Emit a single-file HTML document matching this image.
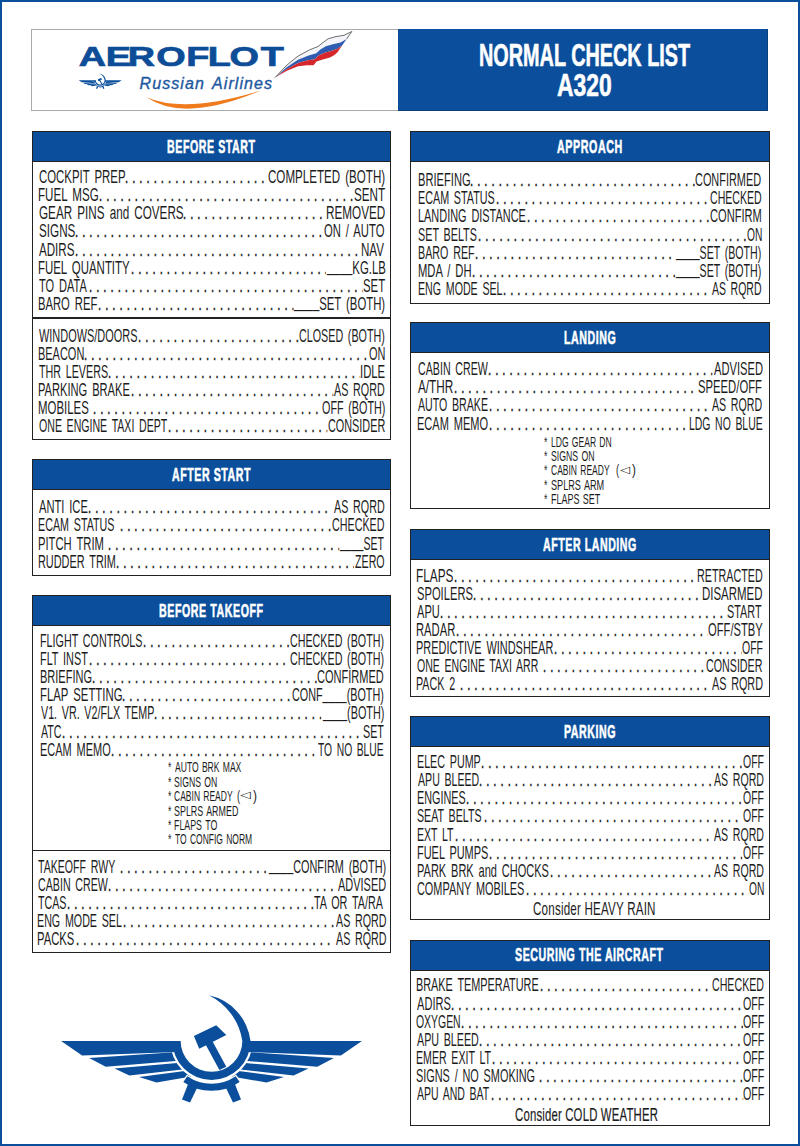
<!DOCTYPE html>
<html><head><meta charset="utf-8"><title>Normal Check List A320</title>
<style>
*{margin:0;padding:0;box-sizing:border-box}
html,body{width:800px;height:1146px;overflow:hidden;background:#fff}
body{position:relative;font-family:"Liberation Sans",Arial,sans-serif;color:#1c1c1c}
.frame{position:absolute;left:0;top:0;width:800px;height:1146px;border:2px solid #0b4f9c}
.abs{position:absolute;left:0;top:0}
.hbox{position:absolute;left:30.5px;top:28.8px;width:369px;height:82.5px;border:1.5px solid #aaa;background:#fff}
.hblue{position:absolute;left:398px;top:29px;width:370px;height:81.5px;background:#0b4f9c;border-right:1px solid #0a3f7c;border-bottom:1px solid #0a3f7c}
.box{position:absolute;border:1.5px solid #222;background:#fff}
.hd{position:absolute;background:#0b4f9c;border:1.5px solid #222}
.dv{position:absolute;height:1.5px;background:#222}
.ln,.dt{position:absolute;transform-origin:0 0;white-space:nowrap;line-height:20px}
.dt{font-size:18.5px;overflow:hidden;transform:scaleX(0.615);-webkit-text-stroke:0.45px #1c1c1c}
.sub{position:absolute;transform-origin:0 0;white-space:nowrap;letter-spacing:0.3px}
.tri{font-family:'DejaVu Sans',sans-serif}
.ht{color:#fff;-webkit-text-stroke:0.6px #fff}
.md{-webkit-text-stroke:0.2px #1c1c1c}
.us{position:relative;top:-2.5px}
</style></head>
<body>
<div class="frame"></div>
<div class="hbox"></div><div class="hblue"></div><div class="ln ht" style="left:478.67px;top:45.65px;font-size:31.2px;letter-spacing:0.0px;word-spacing:0px;font-weight:700;transform:scaleX(0.6357)">NORMAL CHECK LIST</div><div class="ln ht" style="left:557.13px;top:75.95px;font-size:31.2px;letter-spacing:0.0px;word-spacing:0px;font-weight:700;transform:scaleX(0.7335)">A320</div><svg class="abs" width="800" height="130" viewBox="0 0 800 130"><path d="M146.6,97.2 Q185,114 260.8,90.6 Q184,123 146.6,97.2Z" fill="#f07b1d"/><path d="M275.00,77.50 L287.00,65.00 L298.00,56.10 L309.50,49.90 L318.00,46.50 L322.00,43.30 L328.00,38.80 L336.00,36.60 L344.00,35.30 L351.80,31.50 L346.65,38.95 L340.58,42.39 L333.84,44.12 L325.84,46.36 L320.02,49.85 L316.38,53.27 L308.60,55.41 L298.00,59.74 L287.00,67.05 L275.00,77.50Z" fill="#f3f5fa"/><path d="M275.00,77.50 L287.00,67.05 L298.00,59.74 L308.60,55.41 L316.38,53.27 L320.02,49.85 L325.84,46.36 L333.84,44.12 L340.58,42.39 L346.65,38.95 L342.08,45.58 L337.54,48.70 L331.92,50.81 L323.92,53.08 L318.26,55.68 L314.94,59.28 L307.80,60.30 L298.00,62.97 L287.00,68.88 L275.00,77.50Z" fill="#2d5cb0"/><path d="M275.00,77.50 L287.00,68.88 L298.00,62.97 L307.80,60.30 L314.94,59.28 L318.26,55.68 L323.92,53.08 L331.92,50.81 L337.54,48.70 L342.08,45.58 L337.50,52.20 L334.50,55.00 L330.00,57.50 L322.00,59.80 L316.50,61.50 L313.50,65.30 L307.00,65.20 L298.00,66.20 L287.00,70.70 L275.00,77.50Z" fill="#d6282c"/><path d="M275.00,77.50 L287.00,65.00 L298.00,56.10 L309.50,49.90 L318.00,46.50 L322.00,43.30 L328.00,38.80 L336.00,36.60 L344.00,35.30 L351.80,31.50 L346.65,38.95" fill="none" stroke="#4a4a4a" stroke-width="0.8"/><text transform="scale(1.4,1)" x="56.34 75.62 91.34 111.66 132.99 148.34 164.01 186.28" y="66.1" font-family="Liberation Sans, Arial, sans-serif" font-weight="700" font-size="27.0" fill="#0d4d97" stroke="#0d4d97" stroke-width="0.7">AEROFLOT</text><text x="139.5" y="89.1" font-family="Liberation Sans, Arial, sans-serif" font-style="italic" font-size="16" letter-spacing="1.1" word-spacing="2" fill="#1d57a0" stroke="#1d57a0" stroke-width="0.35">Russian Airlines</text><g transform="translate(78.7,80.2) scale(0.143) translate(-61.1,-1041)"><path d="M89.10,1058.00 L200.00,1050.50 L200.00,1059.00 L105.75,1066.75ZM333.90,1058.00 L223.00,1050.50 L223.00,1059.00 L317.25,1066.75ZM114.50,1068.50 L200.00,1061.00 L200.00,1067.50 L129.40,1075.50ZM308.50,1068.50 L223.00,1061.00 L223.00,1067.50 L293.60,1075.50ZM139.00,1077.00 L200.00,1069.00 L200.00,1075.00 L156.50,1082.50ZM284.00,1077.00 L223.00,1069.00 L223.00,1075.00 L266.50,1082.50Z" fill="#0b4f9c"/><circle cx="211.5" cy="1041.0" r="41.2" fill="#fff"/><path d="M183.32,1082.00 A49.75,49.75 0 0 0 239.68,1082.00 L235.69,1076.19 A42.7,42.7 0 0 1 187.31,1076.19Z" fill="#0b4f9c" stroke="#fff" stroke-width="2.4" paint-order="stroke"/><path d="M188.50,1083.00 L197.50,1087.00 L190.00,1102.50 L182.00,1099.60Z" fill="#0b4f9c"/><path d="M234.50,1083.00 L225.50,1087.00 L233.00,1102.50 L241.00,1099.60Z" fill="#0b4f9c"/><path d="M172.50,1041.0 A39.0,39.0 0 0 0 250.50,1041.0 A53,53 0 0 0 208.75,995.25 A61,61 0 0 1 242.35,1041.0 A30.85,30.85 0 0 1 180.65,1041.0 Z" fill="#0b4f9c" stroke="#fff" stroke-width="3" paint-order="stroke"/><path d="M61.10,1041.00 L178.00,1041.00 L178.00,1052.00 L82.10,1055.40ZM361.90,1041.00 L245.00,1041.00 L245.00,1052.00 L340.90,1055.40Z" fill="#0b4f9c"/><path d="M193.90,1035.90 L216.20,1025.30 L226.30,1034.90 L199.20,1048.70ZM204.50,1042.50 L211.50,1039.50 L226.30,1066.80 L219.40,1070.00Z" fill="#0b4f9c"/></g></svg>
<div class="box" style="left:32px;top:130.75px;width:359px;height:309.25px"></div><div class="hd" style="left:32px;top:130.75px;width:359px;height:31px"></div><div class="ln ht" style="left:166.73px;top:137.26px;font-size:19.2px;letter-spacing:1.0px;word-spacing:0px;font-weight:700;transform:scaleX(0.5547)">BEFORE START</div><div class="dv" style="left:32px;top:317px;width:359px"></div>
<div class="ln" style="left:38.52px;top:167.12px;font-size:18.5px;letter-spacing:0.0px;word-spacing:3.0px;font-weight:400;transform:scaleX(0.6159)">COCKPIT PREP</div><div class="dt" style="left:125.36px;top:167.12px;width:232.26px;letter-spacing:6.519px">.....................</div><div class="ln" style="left:268.41px;top:167.12px;font-size:18.5px;letter-spacing:0.0px;word-spacing:3.0px;font-weight:400;transform:scaleX(0.6263)">COMPLETED (BOTH)</div><div class="ln" style="left:38.15px;top:185.22px;font-size:18.5px;letter-spacing:0.0px;word-spacing:3.0px;font-weight:400;transform:scaleX(0.6264)">FUEL MSG</div><div class="dt" style="left:99.16px;top:185.22px;width:413.72px;letter-spacing:6.519px">.....................................</div><div class="ln" style="left:353.87px;top:185.22px;font-size:18.5px;letter-spacing:0.0px;word-spacing:3.0px;font-weight:400;transform:scaleX(0.6323)">SENT</div><div class="ln" style="left:38.51px;top:203.32px;font-size:18.5px;letter-spacing:0.0px;word-spacing:3.0px;font-weight:400;transform:scaleX(0.6315)">GEAR PINS and COVERS</div><div class="dt" style="left:183.36px;top:203.32px;width:232.26px;letter-spacing:6.519px">.....................</div><div class="ln" style="left:326.04px;top:203.32px;font-size:18.5px;letter-spacing:0.0px;word-spacing:3.0px;font-weight:400;transform:scaleX(0.6342)">REMOVED</div><div class="ln" style="left:38.57px;top:221.42px;font-size:18.5px;letter-spacing:0.0px;word-spacing:3.0px;font-weight:400;transform:scaleX(0.6317)">SIGNS</div><div class="dt" style="left:75.16px;top:221.42px;width:404.29px;letter-spacing:6.519px">....................................</div><div class="ln" style="left:324.07px;top:221.42px;font-size:18.5px;letter-spacing:0.0px;word-spacing:3.0px;font-weight:400;transform:scaleX(0.6093)">ON / AUTO</div><div class="ln" style="left:39.08px;top:239.52px;font-size:18.5px;letter-spacing:0.0px;word-spacing:3.0px;font-weight:400;transform:scaleX(0.6271)">ADIRS</div><div class="dt" style="left:74.76px;top:239.52px;width:465.75px;letter-spacing:6.519px">.........................................</div><div class="ln" style="left:361.05px;top:239.52px;font-size:18.5px;letter-spacing:0.0px;word-spacing:3.0px;font-weight:400;transform:scaleX(0.6257)">NAV</div><div class="ln" style="left:38.16px;top:257.62px;font-size:18.5px;letter-spacing:0.0px;word-spacing:3.0px;font-weight:400;transform:scaleX(0.6182)">FUEL QUANTITY</div><div class="dt" style="left:130.76px;top:257.62px;width:316.81px;letter-spacing:6.519px">.............................</div><div class="ln" style="left:326.57px;top:257.62px;font-size:18.5px;letter-spacing:0.0px;word-spacing:3.0px;font-weight:400;transform:scaleX(0.6150)"><span class=us>____</span>KG.LB</div><div class="ln" style="left:38.85px;top:275.72px;font-size:18.5px;letter-spacing:0.0px;word-spacing:3.0px;font-weight:400;transform:scaleX(0.5960)">TO DATA</div><div class="dt" style="left:89.16px;top:275.72px;width:444.62px;letter-spacing:6.519px">.......................................</div><div class="ln" style="left:362.88px;top:275.72px;font-size:18.5px;letter-spacing:0.0px;word-spacing:3.0px;font-weight:400;transform:scaleX(0.6165)">SET</div><div class="ln" style="left:38.18px;top:293.82px;font-size:18.5px;letter-spacing:0.0px;word-spacing:3.0px;font-weight:400;transform:scaleX(0.6075)">BARO REF</div><div class="dt" style="left:97.76px;top:293.82px;width:317.79px;letter-spacing:6.519px">.............................</div><div class="ln" style="left:294.17px;top:293.82px;font-size:18.5px;letter-spacing:0.0px;word-spacing:3.0px;font-weight:400;transform:scaleX(0.6130)"><span class=us>____</span>SET (BOTH)</div>
<div class="ln" style="left:39.05px;top:325.52px;font-size:18.5px;letter-spacing:0.0px;word-spacing:3.0px;font-weight:400;transform:scaleX(0.5913)">WINDOWS/DOORS</div><div class="dt" style="left:137.76px;top:325.52px;width:262.50px;letter-spacing:6.519px">........................</div><div class="ln" style="left:299.46px;top:325.52px;font-size:18.5px;letter-spacing:0.0px;word-spacing:3.0px;font-weight:400;transform:scaleX(0.5801)">CLOSED (BOTH)</div><div class="ln" style="left:38.20px;top:343.62px;font-size:18.5px;letter-spacing:0.0px;word-spacing:3.0px;font-weight:400;transform:scaleX(0.5925)">BEACON</div><div class="dt" style="left:84.36px;top:343.62px;width:462.50px;letter-spacing:6.519px">.........................................</div><div class="ln" style="left:369.08px;top:343.62px;font-size:18.5px;letter-spacing:0.0px;word-spacing:3.0px;font-weight:400;transform:scaleX(0.5914)">ON</div><div class="ln" style="left:38.86px;top:361.72px;font-size:18.5px;letter-spacing:0.0px;word-spacing:3.0px;font-weight:400;transform:scaleX(0.5793)">THR LEVERS</div><div class="dt" style="left:108.16px;top:361.72px;width:409.82px;letter-spacing:6.519px">.....................................</div><div class="ln" style="left:359.96px;top:361.72px;font-size:18.5px;letter-spacing:0.0px;word-spacing:3.0px;font-weight:400;transform:scaleX(0.6110)">IDLE</div><div class="ln" style="left:38.19px;top:379.82px;font-size:18.5px;letter-spacing:0.0px;word-spacing:3.0px;font-weight:400;transform:scaleX(0.6014)">PARKING BRAKE</div><div class="dt" style="left:131.16px;top:379.82px;width:329.17px;letter-spacing:6.519px">..............................</div><div class="ln" style="left:334.38px;top:379.82px;font-size:18.5px;letter-spacing:0.0px;word-spacing:3.0px;font-weight:400;transform:scaleX(0.5812)">AS RQRD</div><div class="ln" style="left:38.16px;top:397.92px;font-size:18.5px;letter-spacing:0.0px;word-spacing:3.0px;font-weight:400;transform:scaleX(0.6172)">MOBILES</div><div class="dt" style="left:92.86px;top:397.92px;width:371.93px;letter-spacing:6.519px">.................................</div><div class="ln" style="left:321.89px;top:397.92px;font-size:18.5px;letter-spacing:0.0px;word-spacing:3.0px;font-weight:400;transform:scaleX(0.5823)">OFF (BOTH)</div><div class="ln" style="left:38.60px;top:416.02px;font-size:18.5px;letter-spacing:0.0px;word-spacing:3.0px;font-weight:400;transform:scaleX(0.5721)">ONE ENGINE TAXI DEPT</div><div class="dt" style="left:168.36px;top:416.02px;width:258.92px;letter-spacing:6.519px">........................</div><div class="ln" style="left:327.85px;top:416.02px;font-size:18.5px;letter-spacing:0.0px;word-spacing:3.0px;font-weight:400;transform:scaleX(0.5863)">CONSIDER</div>
<div class="box" style="left:32px;top:458.5px;width:359px;height:117.5px"></div><div class="hd" style="left:32px;top:458.5px;width:359px;height:31px"></div><div class="ln ht" style="left:171.74px;top:464.56px;font-size:19.2px;letter-spacing:1.0px;word-spacing:0px;font-weight:700;transform:scaleX(0.5537)">AFTER START</div>
<div class="ln" style="left:39.28px;top:497.32px;font-size:18.5px;letter-spacing:0.0px;word-spacing:3.0px;font-weight:400;transform:scaleX(0.6016)">ANTI ICE</div><div class="dt" style="left:88.36px;top:497.32px;width:397.46px;letter-spacing:6.519px">...................................</div><div class="ln" style="left:333.58px;top:497.32px;font-size:18.5px;letter-spacing:0.0px;word-spacing:3.0px;font-weight:400;transform:scaleX(0.5812)">AS RQRD</div><div class="ln" style="left:38.42px;top:515.42px;font-size:18.5px;letter-spacing:0.0px;word-spacing:3.0px;font-weight:400;transform:scaleX(0.5802)">ECAM STATUS</div><div class="dt" style="left:120.46px;top:515.42px;width:343.32px;letter-spacing:6.519px">...............................</div><div class="ln" style="left:331.86px;top:515.42px;font-size:18.5px;letter-spacing:0.0px;word-spacing:3.0px;font-weight:400;transform:scaleX(0.5799)">CHECKED</div><div class="ln" style="left:38.38px;top:533.52px;font-size:18.5px;letter-spacing:0.0px;word-spacing:3.0px;font-weight:400;transform:scaleX(0.6077)">PITCH TRIM</div><div class="dt" style="left:108.06px;top:533.52px;width:375.84px;letter-spacing:6.519px">..................................</div><div class="ln" style="left:340.16px;top:533.52px;font-size:18.5px;letter-spacing:0.0px;word-spacing:3.0px;font-weight:400;transform:scaleX(0.5689)"><span class=us>____</span>SET</div><div class="ln" style="left:38.41px;top:551.62px;font-size:18.5px;letter-spacing:0.0px;word-spacing:3.0px;font-weight:400;transform:scaleX(0.5894)">RUDDER TRIM</div><div class="dt" style="left:116.36px;top:551.62px;width:386.73px;letter-spacing:6.519px">...................................</div><div class="ln" style="left:354.66px;top:551.62px;font-size:18.5px;letter-spacing:0.0px;word-spacing:3.0px;font-weight:400;transform:scaleX(0.5770)">ZERO</div>
<div class="box" style="left:32px;top:594.5px;width:359px;height:358.0px"></div><div class="hd" style="left:32px;top:594.5px;width:359px;height:31px"></div><div class="ln ht" style="left:158.88px;top:600.56px;font-size:19.2px;letter-spacing:1.0px;word-spacing:0px;font-weight:700;transform:scaleX(0.5551)">BEFORE TAKEOFF</div><div class="dv" style="left:32px;top:849.5px;width:359px"></div>
<div class="ln" style="left:39.82px;top:631.02px;font-size:18.5px;letter-spacing:0.0px;word-spacing:3.0px;font-weight:400;transform:scaleX(0.5810)">FLIGHT CONTROLS</div><div class="dt" style="left:142.76px;top:631.02px;width:238.76px;letter-spacing:6.519px">......................</div><div class="ln" style="left:289.86px;top:631.02px;font-size:18.5px;letter-spacing:0.0px;word-spacing:3.0px;font-weight:400;transform:scaleX(0.5792)">CHECKED (BOTH)</div><div class="ln" style="left:39.81px;top:649.12px;font-size:18.5px;letter-spacing:0.0px;word-spacing:3.0px;font-weight:400;transform:scaleX(0.5872)">FLT INST</div><div class="dt" style="left:89.16px;top:649.12px;width:325.92px;letter-spacing:6.519px">.............................</div><div class="ln" style="left:289.86px;top:649.12px;font-size:18.5px;letter-spacing:0.0px;word-spacing:3.0px;font-weight:400;transform:scaleX(0.5792)">CHECKED (BOTH)</div><div class="ln" style="left:39.80px;top:667.22px;font-size:18.5px;letter-spacing:0.0px;word-spacing:3.0px;font-weight:400;transform:scaleX(0.5955)">BRIEFING</div><div class="dt" style="left:91.76px;top:667.22px;width:365.92px;letter-spacing:6.519px">.................................</div><div class="ln" style="left:317.04px;top:667.22px;font-size:18.5px;letter-spacing:0.0px;word-spacing:3.0px;font-weight:400;transform:scaleX(0.5953)">CONFIRMED</div><div class="ln" style="left:39.77px;top:685.32px;font-size:18.5px;letter-spacing:0.0px;word-spacing:3.0px;font-weight:400;transform:scaleX(0.6144)">FLAP SETTING</div><div class="dt" style="left:122.36px;top:685.32px;width:275.51px;letter-spacing:6.519px">.........................</div><div class="ln" style="left:292.05px;top:685.32px;font-size:18.5px;letter-spacing:0.0px;word-spacing:3.0px;font-weight:400;transform:scaleX(0.5838)">CONF<span class=us>____</span>(BOTH)</div><div class="ln" style="left:40.65px;top:703.42px;font-size:18.5px;letter-spacing:0.0px;word-spacing:3.0px;font-weight:400;transform:scaleX(0.5788)">V1. VR. V2/FLX TEMP</div><div class="dt" style="left:154.36px;top:703.42px;width:271.93px;letter-spacing:6.519px">.........................</div><div class="ln" style="left:322.56px;top:703.42px;font-size:18.5px;letter-spacing:0.0px;word-spacing:3.0px;font-weight:400;transform:scaleX(0.5846)"><span class=us>____</span>(BOTH)</div><div class="ln" style="left:40.68px;top:721.52px;font-size:18.5px;letter-spacing:0.0px;word-spacing:3.0px;font-weight:400;transform:scaleX(0.5764)">ATC</div><div class="dt" style="left:62.36px;top:721.52px;width:487.54px;letter-spacing:6.519px">...........................................</div><div class="ln" style="left:362.51px;top:721.52px;font-size:18.5px;letter-spacing:0.0px;word-spacing:3.0px;font-weight:400;transform:scaleX(0.5819)">SET</div><div class="ln" style="left:39.80px;top:739.62px;font-size:18.5px;letter-spacing:0.0px;word-spacing:3.0px;font-weight:400;transform:scaleX(0.5936)">ECAM MEMO</div><div class="dt" style="left:110.76px;top:739.62px;width:335.67px;letter-spacing:6.519px">..............................</div><div class="ln" style="left:317.77px;top:739.62px;font-size:18.5px;letter-spacing:0.0px;word-spacing:3.0px;font-weight:400;transform:scaleX(0.5580)">TO NO BLUE</div>
<div class="ln" style="left:167.61px;top:757.42px;font-size:14.4px;letter-spacing:0.0px;word-spacing:0px;font-weight:400;transform:scaleX(0.6023)">*</div><div class="ln" style="left:174.68px;top:757.42px;font-size:14.4px;letter-spacing:0.0px;word-spacing:1.5px;font-weight:400;transform:scaleX(0.5947)">AUTO BRK MAX</div><div class="ln" style="left:167.61px;top:771.80px;font-size:14.4px;letter-spacing:0.0px;word-spacing:0px;font-weight:400;transform:scaleX(0.6023)">*</div><div class="ln" style="left:174.31px;top:771.80px;font-size:14.4px;letter-spacing:0.0px;word-spacing:1.5px;font-weight:400;transform:scaleX(0.6021)">SIGNS ON</div><div class="ln" style="left:167.61px;top:786.18px;font-size:14.4px;letter-spacing:0.0px;word-spacing:0px;font-weight:400;transform:scaleX(0.6023)">*</div><div class="ln" style="left:174.27px;top:786.18px;font-size:14.4px;letter-spacing:0.0px;word-spacing:1.5px;font-weight:400;transform:scaleX(0.5919)">CABIN READY</div><div class="ln" style="left:236.52px;top:786.18px;font-size:14.4px;letter-spacing:0.0px;word-spacing:0px;font-weight:400;transform:scaleX(0.6548)">(</div><div class="ln" style="left:252.68px;top:786.18px;font-size:14.4px;letter-spacing:0.0px;word-spacing:0px;font-weight:400;transform:scaleX(0.8250)">)</div><div class="ln tri" style="left:240.21px;top:785.36px;font-size:9.80px;transform:scaleX(1.4245)">◁</div><div class="ln" style="left:167.61px;top:800.56px;font-size:14.4px;letter-spacing:0.0px;word-spacing:0px;font-weight:400;transform:scaleX(0.6023)">*</div><div class="ln" style="left:174.29px;top:800.56px;font-size:14.4px;letter-spacing:0.0px;word-spacing:1.5px;font-weight:400;transform:scaleX(0.6195)">SPLRS ARMED</div><div class="ln" style="left:167.61px;top:814.94px;font-size:14.4px;letter-spacing:0.0px;word-spacing:0px;font-weight:400;transform:scaleX(0.6023)">*</div><div class="ln" style="left:173.97px;top:814.94px;font-size:14.4px;letter-spacing:0.0px;word-spacing:1.5px;font-weight:400;transform:scaleX(0.6145)">FLAPS TO</div><div class="ln" style="left:167.61px;top:829.32px;font-size:14.4px;letter-spacing:0.0px;word-spacing:0px;font-weight:400;transform:scaleX(0.6023)">*</div><div class="ln" style="left:174.51px;top:829.32px;font-size:14.4px;letter-spacing:0.0px;word-spacing:1.5px;font-weight:400;transform:scaleX(0.5908)">TO CONFIG NORM</div>
<div class="ln" style="left:38.06px;top:856.82px;font-size:18.5px;letter-spacing:0.0px;word-spacing:3.0px;font-weight:400;transform:scaleX(0.5722)">TAKEOFF RWY</div><div class="dt" style="left:120.46px;top:856.82px;width:240.23px;letter-spacing:6.519px">......................</div><div class="ln" style="left:269.16px;top:856.82px;font-size:18.5px;letter-spacing:0.0px;word-spacing:3.0px;font-weight:400;transform:scaleX(0.5875)"><span class=us>____</span>CONFIRM (BOTH)</div><div class="ln" style="left:37.76px;top:874.92px;font-size:18.5px;letter-spacing:0.0px;word-spacing:3.0px;font-weight:400;transform:scaleX(0.5766)">CABIN CREW</div><div class="dt" style="left:108.36px;top:874.92px;width:372.10px;letter-spacing:6.519px">.................................</div><div class="ln" style="left:337.98px;top:874.92px;font-size:18.5px;letter-spacing:0.0px;word-spacing:3.0px;font-weight:400;transform:scaleX(0.5928)">ADVISED</div><div class="ln" style="left:38.06px;top:893.02px;font-size:18.5px;letter-spacing:0.0px;word-spacing:3.0px;font-weight:400;transform:scaleX(0.5762)">TCAS</div><div class="dt" style="left:66.76px;top:893.02px;width:401.69px;letter-spacing:6.519px">....................................</div><div class="ln" style="left:314.36px;top:893.02px;font-size:18.5px;letter-spacing:0.0px;word-spacing:3.0px;font-weight:400;transform:scaleX(0.5834)">TA OR TA/RA</div><div class="ln" style="left:37.42px;top:911.12px;font-size:18.5px;letter-spacing:0.0px;word-spacing:3.0px;font-weight:400;transform:scaleX(0.5784)">ENG MODE SEL</div><div class="dt" style="left:122.76px;top:911.12px;width:344.78px;letter-spacing:6.519px">...............................</div><div class="ln" style="left:335.58px;top:911.12px;font-size:18.5px;letter-spacing:0.0px;word-spacing:3.0px;font-weight:400;transform:scaleX(0.5789)">AS RQRD</div><div class="ln" style="left:37.38px;top:929.22px;font-size:18.5px;letter-spacing:0.0px;word-spacing:3.0px;font-weight:400;transform:scaleX(0.6081)">PACKS</div><div class="dt" style="left:75.76px;top:929.22px;width:421.20px;letter-spacing:6.519px">.....................................</div><div class="ln" style="left:335.58px;top:929.22px;font-size:18.5px;letter-spacing:0.0px;word-spacing:3.0px;font-weight:400;transform:scaleX(0.5789)">AS RQRD</div>
<div class="box" style="left:410px;top:131px;width:359.5px;height:172.5px"></div><div class="hd" style="left:410px;top:131px;width:359.5px;height:31px"></div><div class="ln ht" style="left:557.35px;top:137.06px;font-size:19.2px;letter-spacing:1.0px;word-spacing:0px;font-weight:700;transform:scaleX(0.5583)">APPROACH</div>
<div class="ln" style="left:417.79px;top:170.22px;font-size:18.5px;letter-spacing:0.0px;word-spacing:3.0px;font-weight:400;transform:scaleX(0.6026)">BRIEFING</div><div class="dt" style="left:470.36px;top:170.22px;width:365.59px;letter-spacing:6.519px">.................................</div><div class="ln" style="left:695.45px;top:170.22px;font-size:18.5px;letter-spacing:0.0px;word-spacing:3.0px;font-weight:400;transform:scaleX(0.5899)">CONFIRMED</div><div class="ln" style="left:417.82px;top:188.32px;font-size:18.5px;letter-spacing:0.0px;word-spacing:3.0px;font-weight:400;transform:scaleX(0.5817)">ECAM STATUS</div><div class="dt" style="left:496.36px;top:188.32px;width:346.73px;letter-spacing:6.519px">...............................</div><div class="ln" style="left:709.86px;top:188.32px;font-size:18.5px;letter-spacing:0.0px;word-spacing:3.0px;font-weight:400;transform:scaleX(0.5709)">CHECKED</div><div class="ln" style="left:417.80px;top:206.42px;font-size:18.5px;letter-spacing:0.0px;word-spacing:3.0px;font-weight:400;transform:scaleX(0.5908)">LANDING DISTANCE</div><div class="dt" style="left:526.76px;top:206.42px;width:297.62px;letter-spacing:6.519px">...........................</div><div class="ln" style="left:710.04px;top:206.42px;font-size:18.5px;letter-spacing:0.0px;word-spacing:3.0px;font-weight:400;transform:scaleX(0.6010)">CONFIRM</div><div class="ln" style="left:418.21px;top:224.52px;font-size:18.5px;letter-spacing:0.0px;word-spacing:3.0px;font-weight:400;transform:scaleX(0.5830)">SET BELTS</div><div class="dt" style="left:478.36px;top:224.52px;width:435.51px;letter-spacing:6.519px">.......................................</div><div class="ln" style="left:746.52px;top:224.52px;font-size:18.5px;letter-spacing:0.0px;word-spacing:3.0px;font-weight:400;transform:scaleX(0.5519)">ON</div><div class="ln" style="left:417.82px;top:242.62px;font-size:18.5px;letter-spacing:0.0px;word-spacing:3.0px;font-weight:400;transform:scaleX(0.5802)">BARO REF</div><div class="dt" style="left:474.76px;top:242.62px;width:325.92px;letter-spacing:6.519px">.............................</div><div class="ln" style="left:676.16px;top:242.62px;font-size:18.5px;letter-spacing:0.0px;word-spacing:3.0px;font-weight:400;transform:scaleX(0.5739)"><span class=us>____</span>SET (BOTH)</div><div class="ln" style="left:417.78px;top:260.72px;font-size:18.5px;letter-spacing:0.0px;word-spacing:3.0px;font-weight:400;transform:scaleX(0.6066)">MDA / DH</div><div class="dt" style="left:471.76px;top:260.72px;width:330.79px;letter-spacing:6.519px">..............................</div><div class="ln" style="left:676.16px;top:260.72px;font-size:18.5px;letter-spacing:0.0px;word-spacing:3.0px;font-weight:400;transform:scaleX(0.5739)"><span class=us>____</span>SET (BOTH)</div><div class="ln" style="left:417.83px;top:278.82px;font-size:18.5px;letter-spacing:0.0px;word-spacing:3.0px;font-weight:400;transform:scaleX(0.5757)">ENG MODE SEL</div><div class="dt" style="left:502.76px;top:278.82px;width:338.92px;letter-spacing:6.519px">..............................</div><div class="ln" style="left:711.98px;top:278.82px;font-size:18.5px;letter-spacing:0.0px;word-spacing:3.0px;font-weight:400;transform:scaleX(0.5673)">AS RQRD</div>
<div class="box" style="left:410px;top:322.3px;width:359.5px;height:187.2px"></div><div class="hd" style="left:410px;top:322.3px;width:359.5px;height:31px"></div><div class="ln ht" style="left:563.84px;top:328.36px;font-size:19.2px;letter-spacing:1.0px;word-spacing:0px;font-weight:700;transform:scaleX(0.5538)">LANDING</div>
<div class="ln" style="left:417.76px;top:359.22px;font-size:18.5px;letter-spacing:0.0px;word-spacing:3.0px;font-weight:400;transform:scaleX(0.5766)">CABIN CREW</div><div class="dt" style="left:488.36px;top:359.22px;width:364.94px;letter-spacing:6.519px">.................................</div><div class="ln" style="left:713.58px;top:359.22px;font-size:18.5px;letter-spacing:0.0px;word-spacing:3.0px;font-weight:400;transform:scaleX(0.6028)">ADVISED</div><div class="ln" style="left:418.28px;top:377.32px;font-size:18.5px;letter-spacing:0.0px;word-spacing:3.0px;font-weight:400;transform:scaleX(0.6355)">A/THR</div><div class="dt" style="left:453.76px;top:377.32px;width:397.46px;letter-spacing:6.519px">...................................</div><div class="ln" style="left:698.49px;top:377.32px;font-size:18.5px;letter-spacing:0.0px;word-spacing:3.0px;font-weight:400;transform:scaleX(0.6101)">SPEED/OFF</div><div class="ln" style="left:418.28px;top:395.42px;font-size:18.5px;letter-spacing:0.0px;word-spacing:3.0px;font-weight:400;transform:scaleX(0.5741)">AUTO BRAKE</div><div class="dt" style="left:488.76px;top:395.42px;width:362.34px;letter-spacing:6.519px">................................</div><div class="ln" style="left:712.38px;top:395.42px;font-size:18.5px;letter-spacing:0.0px;word-spacing:3.0px;font-weight:400;transform:scaleX(0.5743)">AS RQRD</div><div class="ln" style="left:417.39px;top:413.52px;font-size:18.5px;letter-spacing:0.0px;word-spacing:3.0px;font-weight:400;transform:scaleX(0.5971)">ECAM MEMO</div><div class="dt" style="left:488.76px;top:413.52px;width:325.27px;letter-spacing:6.519px">.............................</div><div class="ln" style="left:688.74px;top:413.52px;font-size:18.5px;letter-spacing:0.0px;word-spacing:3.0px;font-weight:400;transform:scaleX(0.5653)">LDG NO BLUE</div>
<div class="ln" style="left:544.26px;top:431.82px;font-size:14.4px;letter-spacing:0.0px;word-spacing:0px;font-weight:400;transform:scaleX(0.6023)">*</div><div class="ln" style="left:550.70px;top:431.82px;font-size:14.4px;letter-spacing:0.0px;word-spacing:1.5px;font-weight:400;transform:scaleX(0.5938)">LDG GEAR DN</div><div class="ln" style="left:544.26px;top:446.12px;font-size:14.4px;letter-spacing:0.0px;word-spacing:0px;font-weight:400;transform:scaleX(0.6023)">*</div><div class="ln" style="left:551.00px;top:446.12px;font-size:14.4px;letter-spacing:0.0px;word-spacing:1.5px;font-weight:400;transform:scaleX(0.6050)">SIGNS ON</div><div class="ln" style="left:544.26px;top:460.42px;font-size:14.4px;letter-spacing:0.0px;word-spacing:0px;font-weight:400;transform:scaleX(0.6023)">*</div><div class="ln" style="left:550.97px;top:460.42px;font-size:14.4px;letter-spacing:0.0px;word-spacing:1.5px;font-weight:400;transform:scaleX(0.5914)">CABIN READY</div><div class="ln" style="left:615.92px;top:460.42px;font-size:14.4px;letter-spacing:0.0px;word-spacing:0px;font-weight:400;transform:scaleX(0.6548)">(</div><div class="ln" style="left:632.43px;top:460.42px;font-size:14.4px;letter-spacing:0.0px;word-spacing:0px;font-weight:400;transform:scaleX(0.8120)">)</div><div class="ln tri" style="left:619.96px;top:459.60px;font-size:9.80px;transform:scaleX(1.3376)">◁</div><div class="ln" style="left:544.26px;top:474.72px;font-size:14.4px;letter-spacing:0.0px;word-spacing:0px;font-weight:400;transform:scaleX(0.6023)">*</div><div class="ln" style="left:550.99px;top:474.72px;font-size:14.4px;letter-spacing:0.0px;word-spacing:1.5px;font-weight:400;transform:scaleX(0.6346)">SPLRS ARM</div><div class="ln" style="left:544.26px;top:489.02px;font-size:14.4px;letter-spacing:0.0px;word-spacing:0px;font-weight:400;transform:scaleX(0.6023)">*</div><div class="ln" style="left:550.66px;top:489.02px;font-size:14.4px;letter-spacing:0.0px;word-spacing:1.5px;font-weight:400;transform:scaleX(0.6236)">FLAPS SET</div>
<div class="box" style="left:410px;top:528.6px;width:359.5px;height:168.89999999999998px"></div><div class="hd" style="left:410px;top:528.6px;width:359.5px;height:31px"></div><div class="ln ht" style="left:543.25px;top:534.66px;font-size:19.2px;letter-spacing:1.0px;word-spacing:0px;font-weight:700;transform:scaleX(0.5533)">AFTER LANDING</div>
<div class="ln" style="left:416.13px;top:565.62px;font-size:18.5px;letter-spacing:0.0px;word-spacing:3.0px;font-weight:400;transform:scaleX(0.6383)">FLAPS</div><div class="dt" style="left:453.76px;top:565.62px;width:395.84px;letter-spacing:6.519px">...................................</div><div class="ln" style="left:697.12px;top:565.62px;font-size:18.5px;letter-spacing:0.0px;word-spacing:3.0px;font-weight:400;transform:scaleX(0.5820)">RETRACTED</div><div class="ln" style="left:416.59px;top:583.72px;font-size:18.5px;letter-spacing:0.0px;word-spacing:3.0px;font-weight:400;transform:scaleX(0.6043)">SPOILERS</div><div class="dt" style="left:472.76px;top:583.72px;width:373.72px;letter-spacing:6.519px">.................................</div><div class="ln" style="left:702.46px;top:583.72px;font-size:18.5px;letter-spacing:0.0px;word-spacing:3.0px;font-weight:400;transform:scaleX(0.6194)">DISARMED</div><div class="ln" style="left:417.08px;top:601.82px;font-size:18.5px;letter-spacing:0.0px;word-spacing:3.0px;font-weight:400;transform:scaleX(0.5988)">APU</div><div class="dt" style="left:439.76px;top:601.82px;width:466.73px;letter-spacing:6.519px">.........................................</div><div class="ln" style="left:727.11px;top:601.82px;font-size:18.5px;letter-spacing:0.0px;word-spacing:3.0px;font-weight:400;transform:scaleX(0.5861)">START</div><div class="ln" style="left:416.18px;top:619.92px;font-size:18.5px;letter-spacing:0.0px;word-spacing:3.0px;font-weight:400;transform:scaleX(0.6075)">RADAR</div><div class="dt" style="left:455.76px;top:619.92px;width:409.49px;letter-spacing:6.519px">....................................</div><div class="ln" style="left:707.87px;top:619.92px;font-size:18.5px;letter-spacing:0.0px;word-spacing:3.0px;font-weight:400;transform:scaleX(0.6056)">OFF/STBY</div><div class="ln" style="left:416.20px;top:638.02px;font-size:18.5px;letter-spacing:0.0px;word-spacing:3.0px;font-weight:400;transform:scaleX(0.5913)">PREDICTIVE WINDSHEAR</div><div class="dt" style="left:553.76px;top:638.02px;width:305.43px;letter-spacing:6.519px">............................</div><div class="ln" style="left:741.90px;top:638.02px;font-size:18.5px;letter-spacing:0.0px;word-spacing:3.0px;font-weight:400;transform:scaleX(0.5654)">OFF</div><div class="ln" style="left:416.60px;top:656.12px;font-size:18.5px;letter-spacing:0.0px;word-spacing:3.0px;font-weight:400;transform:scaleX(0.5699)">ONE ENGINE TAXI ARR</div><div class="dt" style="left:543.46px;top:656.12px;width:264.62px;letter-spacing:6.519px">........................</div><div class="ln" style="left:706.46px;top:656.12px;font-size:18.5px;letter-spacing:0.0px;word-spacing:3.0px;font-weight:400;transform:scaleX(0.5780)">CONSIDER</div><div class="ln" style="left:416.22px;top:674.22px;font-size:18.5px;letter-spacing:0.0px;word-spacing:3.0px;font-weight:400;transform:scaleX(0.5802)">PACK 2</div><div class="dt" style="left:460.06px;top:674.22px;width:408.36px;letter-spacing:6.519px">....................................</div><div class="ln" style="left:711.98px;top:674.22px;font-size:18.5px;letter-spacing:0.0px;word-spacing:3.0px;font-weight:400;transform:scaleX(0.5836)">AS RQRD</div>
<div class="box" style="left:410px;top:716.3px;width:359.5px;height:204.20000000000005px"></div><div class="hd" style="left:410px;top:716.3px;width:359.5px;height:31px"></div><div class="ln ht" style="left:563.52px;top:722.36px;font-size:19.2px;letter-spacing:1.0px;word-spacing:0px;font-weight:700;transform:scaleX(0.5544)">PARKING</div>
<div class="ln" style="left:416.82px;top:752.12px;font-size:18.5px;letter-spacing:0.0px;word-spacing:3.0px;font-weight:400;transform:scaleX(0.5799)">ELEC PUMP</div><div class="dt" style="left:480.76px;top:752.12px;width:425.10px;letter-spacing:6.519px">......................................</div><div class="ln" style="left:742.50px;top:752.12px;font-size:18.5px;letter-spacing:0.0px;word-spacing:3.0px;font-weight:400;transform:scaleX(0.5654)">OFF</div><div class="ln" style="left:417.68px;top:770.22px;font-size:18.5px;letter-spacing:0.0px;word-spacing:3.0px;font-weight:400;transform:scaleX(0.5731)">APU BLEED</div><div class="dt" style="left:479.16px;top:770.22px;width:379.90px;letter-spacing:6.519px">..................................</div><div class="ln" style="left:713.58px;top:770.22px;font-size:18.5px;letter-spacing:0.0px;word-spacing:3.0px;font-weight:400;transform:scaleX(0.5720)">AS RQRD</div><div class="ln" style="left:416.81px;top:788.32px;font-size:18.5px;letter-spacing:0.0px;word-spacing:3.0px;font-weight:400;transform:scaleX(0.5847)">ENGINES</div><div class="dt" style="left:465.76px;top:788.32px;width:449.49px;letter-spacing:6.519px">........................................</div><div class="ln" style="left:742.50px;top:788.32px;font-size:18.5px;letter-spacing:0.0px;word-spacing:3.0px;font-weight:400;transform:scaleX(0.5654)">OFF</div><div class="ln" style="left:417.22px;top:806.42px;font-size:18.5px;letter-spacing:0.0px;word-spacing:3.0px;font-weight:400;transform:scaleX(0.5760)">SEAT BELTS</div><div class="dt" style="left:483.76px;top:806.42px;width:420.23px;letter-spacing:6.519px">.....................................</div><div class="ln" style="left:742.50px;top:806.42px;font-size:18.5px;letter-spacing:0.0px;word-spacing:3.0px;font-weight:400;transform:scaleX(0.5654)">OFF</div><div class="ln" style="left:416.84px;top:824.52px;font-size:18.5px;letter-spacing:0.0px;word-spacing:3.0px;font-weight:400;transform:scaleX(0.5693)">EXT LT</div><div class="dt" style="left:454.76px;top:824.52px;width:419.58px;letter-spacing:6.519px">.....................................</div><div class="ln" style="left:713.58px;top:824.52px;font-size:18.5px;letter-spacing:0.0px;word-spacing:3.0px;font-weight:400;transform:scaleX(0.5720)">AS RQRD</div><div class="ln" style="left:416.80px;top:842.62px;font-size:18.5px;letter-spacing:0.0px;word-spacing:3.0px;font-weight:400;transform:scaleX(0.5915)">FUEL PUMPS</div><div class="dt" style="left:488.76px;top:842.62px;width:412.10px;letter-spacing:6.519px">.....................................</div><div class="ln" style="left:742.50px;top:842.62px;font-size:18.5px;letter-spacing:0.0px;word-spacing:3.0px;font-weight:400;transform:scaleX(0.5654)">OFF</div><div class="ln" style="left:416.80px;top:860.72px;font-size:18.5px;letter-spacing:0.0px;word-spacing:3.0px;font-weight:400;transform:scaleX(0.5955)">PARK BRK and CHOCKS</div><div class="dt" style="left:549.76px;top:860.72px;width:265.10px;letter-spacing:6.519px">........................</div><div class="ln" style="left:713.58px;top:860.72px;font-size:18.5px;letter-spacing:0.0px;word-spacing:3.0px;font-weight:400;transform:scaleX(0.5720)">AS RQRD</div><div class="ln" style="left:417.15px;top:878.82px;font-size:18.5px;letter-spacing:0.0px;word-spacing:3.0px;font-weight:400;transform:scaleX(0.5891)">COMPANY MOBILES</div><div class="dt" style="left:525.76px;top:878.82px;width:361.69px;letter-spacing:6.519px">................................</div><div class="ln" style="left:748.52px;top:878.82px;font-size:18.5px;letter-spacing:0.0px;word-spacing:3.0px;font-weight:400;transform:scaleX(0.5519)">ON</div>
<div class="ln" style="left:532.91px;top:898.82px;font-size:18.5px;letter-spacing:0.3px;word-spacing:0px;font-weight:400;transform:scaleX(0.6283)">Consider HEAVY RAIN</div>
<div class="box" style="left:410px;top:939.8px;width:359.5px;height:186.5px"></div><div class="hd" style="left:410px;top:939.8px;width:359.5px;height:31px"></div><div class="ln ht" style="left:515.41px;top:945.16px;font-size:19.2px;letter-spacing:1.0px;word-spacing:0px;font-weight:700;transform:scaleX(0.5529)">SECURING THE AIRCRAFT</div>
<div class="ln" style="left:415.81px;top:975.42px;font-size:18.5px;letter-spacing:0.0px;word-spacing:3.0px;font-weight:400;transform:scaleX(0.5870)">BRAKE TEMPERATURE</div><div class="dt" style="left:539.76px;top:975.42px;width:280.39px;letter-spacing:6.519px">.........................</div><div class="ln" style="left:712.46px;top:975.42px;font-size:18.5px;letter-spacing:0.0px;word-spacing:3.0px;font-weight:400;transform:scaleX(0.5754)">CHECKED</div><div class="ln" style="left:416.68px;top:993.52px;font-size:18.5px;letter-spacing:0.0px;word-spacing:3.0px;font-weight:400;transform:scaleX(0.5983)">ADIRS</div><div class="dt" style="left:450.76px;top:993.52px;width:474.86px;letter-spacing:6.519px">..........................................</div><div class="ln" style="left:743.09px;top:993.52px;font-size:18.5px;letter-spacing:0.0px;word-spacing:3.0px;font-weight:400;transform:scaleX(0.5767)">OFF</div><div class="ln" style="left:416.21px;top:1011.62px;font-size:18.5px;letter-spacing:0.0px;word-spacing:3.0px;font-weight:400;transform:scaleX(0.5640)">OXYGEN</div><div class="dt" style="left:460.76px;top:1011.62px;width:458.60px;letter-spacing:6.519px">.........................................</div><div class="ln" style="left:743.09px;top:1011.62px;font-size:18.5px;letter-spacing:0.0px;word-spacing:3.0px;font-weight:400;transform:scaleX(0.5767)">OFF</div><div class="ln" style="left:416.68px;top:1029.72px;font-size:18.5px;letter-spacing:0.0px;word-spacing:3.0px;font-weight:400;transform:scaleX(0.5787)">APU BLEED</div><div class="dt" style="left:478.76px;top:1029.72px;width:429.33px;letter-spacing:6.519px">......................................</div><div class="ln" style="left:743.09px;top:1029.72px;font-size:18.5px;letter-spacing:0.0px;word-spacing:3.0px;font-weight:400;transform:scaleX(0.5767)">OFF</div><div class="ln" style="left:415.83px;top:1047.82px;font-size:18.5px;letter-spacing:0.0px;word-spacing:3.0px;font-weight:400;transform:scaleX(0.5740)">EMER EXIT LT</div><div class="dt" style="left:492.36px;top:1047.82px;width:407.22px;letter-spacing:6.519px">....................................</div><div class="ln" style="left:743.09px;top:1047.82px;font-size:18.5px;letter-spacing:0.0px;word-spacing:3.0px;font-weight:400;transform:scaleX(0.5767)">OFF</div><div class="ln" style="left:416.21px;top:1065.92px;font-size:18.5px;letter-spacing:0.0px;word-spacing:3.0px;font-weight:400;transform:scaleX(0.5884)">SIGNS / NO SMOKING</div><div class="dt" style="left:538.86px;top:1065.92px;width:331.61px;letter-spacing:6.519px">..............................</div><div class="ln" style="left:743.09px;top:1065.92px;font-size:18.5px;letter-spacing:0.0px;word-spacing:3.0px;font-weight:400;transform:scaleX(0.5767)">OFF</div><div class="ln" style="left:416.68px;top:1084.02px;font-size:18.5px;letter-spacing:0.0px;word-spacing:3.0px;font-weight:400;transform:scaleX(0.5687)">APU AND BAT</div><div class="dt" style="left:490.76px;top:1084.02px;width:409.82px;letter-spacing:6.519px">.....................................</div><div class="ln" style="left:743.09px;top:1084.02px;font-size:18.5px;letter-spacing:0.0px;word-spacing:3.0px;font-weight:400;transform:scaleX(0.5767)">OFF</div>
<div class="ln md" style="left:515.02px;top:1105.02px;font-size:18.5px;letter-spacing:0.3px;word-spacing:0px;font-weight:500;transform:scaleX(0.6136)">Consider COLD WEATHER</div>
<svg class="abs" style="top:900px" width="800" height="246" viewBox="0 900 800 246"><path d="M89.10,1058.00 L200.00,1050.50 L200.00,1059.00 L105.75,1066.75ZM333.90,1058.00 L223.00,1050.50 L223.00,1059.00 L317.25,1066.75ZM114.50,1068.50 L200.00,1061.00 L200.00,1067.50 L129.40,1075.50ZM308.50,1068.50 L223.00,1061.00 L223.00,1067.50 L293.60,1075.50ZM139.00,1077.00 L200.00,1069.00 L200.00,1075.00 L156.50,1082.50ZM284.00,1077.00 L223.00,1069.00 L223.00,1075.00 L266.50,1082.50Z" fill="#0b4f9c"/><circle cx="211.5" cy="1041.0" r="41.2" fill="#fff"/><path d="M183.32,1082.00 A49.75,49.75 0 0 0 239.68,1082.00 L235.69,1076.19 A42.7,42.7 0 0 1 187.31,1076.19Z" fill="#0b4f9c" stroke="#fff" stroke-width="2.4" paint-order="stroke"/><path d="M188.50,1083.00 L197.50,1087.00 L190.00,1102.50 L182.00,1099.60Z" fill="#0b4f9c"/><path d="M234.50,1083.00 L225.50,1087.00 L233.00,1102.50 L241.00,1099.60Z" fill="#0b4f9c"/><path d="M172.50,1041.0 A39.0,39.0 0 0 0 250.50,1041.0 A53,53 0 0 0 208.75,995.25 A61,61 0 0 1 242.35,1041.0 A30.85,30.85 0 0 1 180.65,1041.0 Z" fill="#0b4f9c" stroke="#fff" stroke-width="3" paint-order="stroke"/><path d="M61.10,1041.00 L178.00,1041.00 L178.00,1052.00 L82.10,1055.40ZM361.90,1041.00 L245.00,1041.00 L245.00,1052.00 L340.90,1055.40Z" fill="#0b4f9c"/><path d="M193.90,1035.90 L216.20,1025.30 L226.30,1034.90 L199.20,1048.70ZM204.50,1042.50 L211.50,1039.50 L226.30,1066.80 L219.40,1070.00Z" fill="#0b4f9c"/></svg>
</body></html>
